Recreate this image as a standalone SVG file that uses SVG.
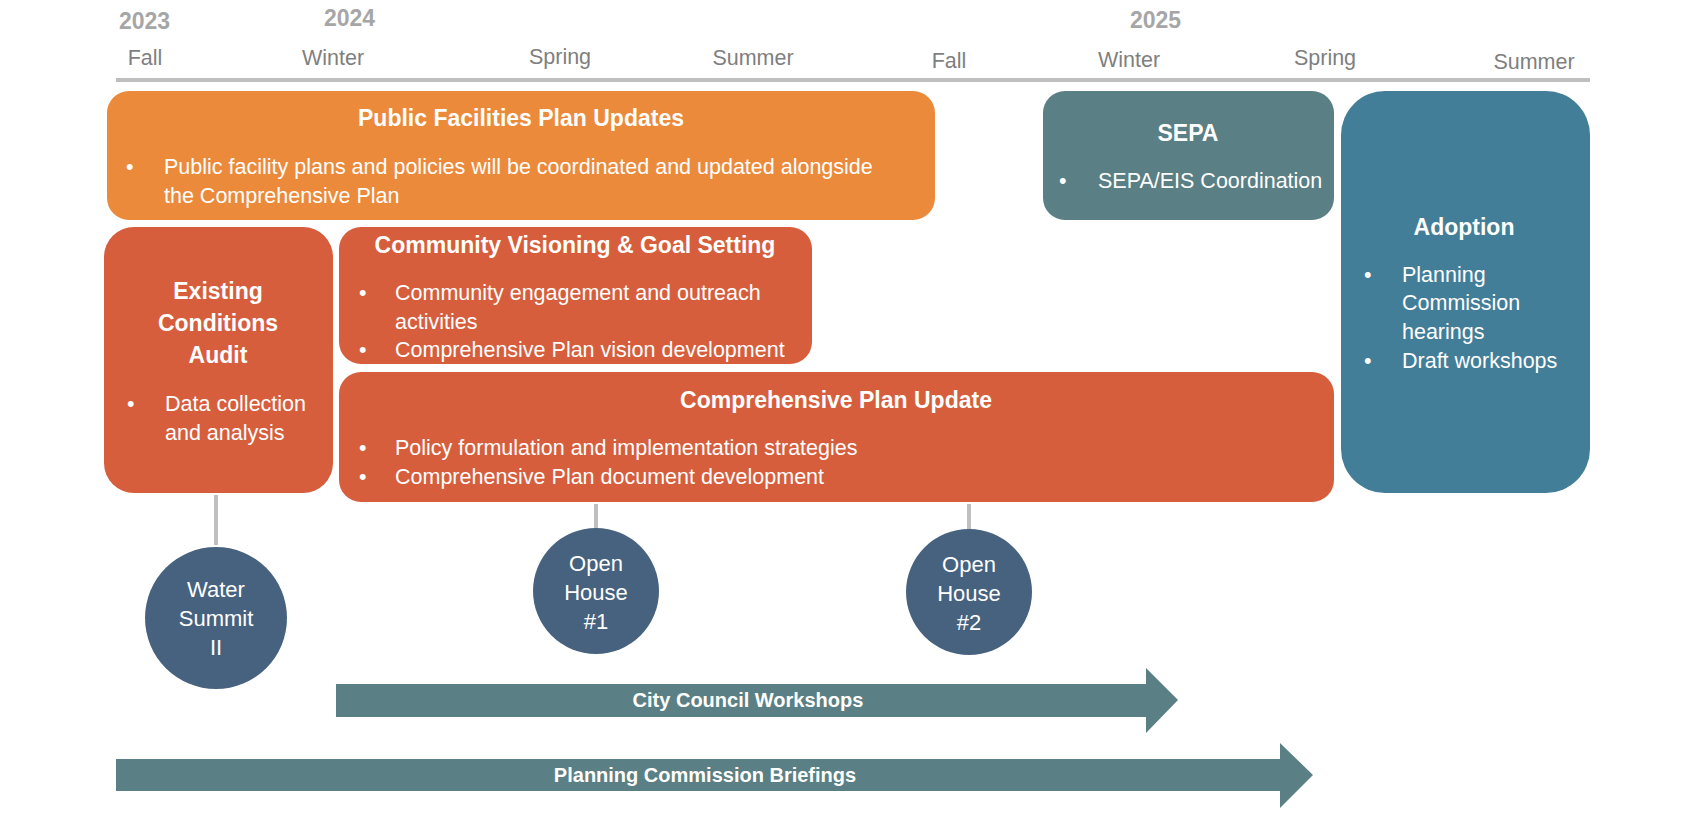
<svg xmlns="http://www.w3.org/2000/svg" width="1700" height="814" viewBox="0 0 1700 814">
<style>
.yr{font-family:"Liberation Sans",Arial,sans-serif;font-weight:bold;font-size:23px;fill:#A6A6A6}
.ss{font-family:"Liberation Sans",Arial,sans-serif;font-size:21.5px;fill:#7F7F7F;text-anchor:middle}
.t{font-family:"Liberation Sans",Arial,sans-serif;font-weight:bold;font-size:23px;fill:#fff;text-anchor:middle}
.b{font-family:"Liberation Sans",Arial,sans-serif;font-size:21.5px;fill:#fff}
.c{font-family:"Liberation Sans",Arial,sans-serif;font-size:22px;fill:#fff;text-anchor:middle}
.a{font-family:"Liberation Sans",Arial,sans-serif;font-weight:bold;font-size:20px;fill:#fff;text-anchor:middle}
.conn{stroke:#BFBFBF;stroke-width:4;fill:none}
.red{fill:#D65E3C}
.circ{fill:#46627F}
.arr{fill:#5A7F84}
</style>
<rect width="1700" height="814" fill="#fff"/>
<g id="timeline">
<text class="yr" x="119" y="29">2023</text>
<text class="yr" x="324" y="26">2024</text>
<text class="yr" x="1130" y="28">2025</text>
<text class="ss" x="145" y="65">Fall</text>
<text class="ss" x="333" y="65">Winter</text>
<text class="ss" x="560" y="64">Spring</text>
<text class="ss" x="753" y="65">Summer</text>
<text class="ss" x="949" y="68">Fall</text>
<text class="ss" x="1129" y="67">Winter</text>
<text class="ss" x="1325" y="65">Spring</text>
<text class="ss" x="1534" y="69">Summer</text>
<line x1="116" y1="80" x2="1590" y2="80" stroke="#BFBFBF" stroke-width="4"/>
</g>
<g id="public-facilities">
<rect x="107" y="91" width="828" height="129" rx="22" fill="#EC8A3B"/>
<text class="t" x="521" y="126">Public Facilities Plan Updates</text>
<text class="b" x="126" y="174">•</text>
<text class="b" x="164" y="174">Public facility plans and policies will be coordinated and updated alongside</text>
<text class="b" x="164" y="203">the Comprehensive Plan</text>
</g>
<g id="sepa">
<rect x="1043" y="91" width="291" height="129" rx="22" fill="#5A7F84"/>
<text class="t" x="1188" y="141">SEPA</text>
<text class="b" x="1059" y="188">•</text>
<text class="b" x="1098" y="188">SEPA/EIS Coordination</text>
</g>
<g id="adoption">
<rect x="1341" y="91" width="249" height="402" rx="44" fill="#437E98"/>
<text class="t" x="1464" y="235">Adoption</text>
<text class="b" x="1364" y="282">•</text>
<text class="b" x="1402" y="282">Planning</text>
<text class="b" x="1402" y="310">Commission</text>
<text class="b" x="1402" y="339">hearings</text>
<text class="b" x="1364" y="368">•</text>
<text class="b" x="1402" y="368">Draft workshops</text>
</g>
<g id="existing-conditions">
<rect class="red" x="104" y="227" width="229" height="266" rx="30"/>
<text class="t" x="218" y="299">Existing</text>
<text class="t" x="218" y="331">Conditions</text>
<text class="t" x="218" y="363">Audit</text>
<text class="b" x="127" y="411">•</text>
<text class="b" x="165" y="411">Data collection</text>
<text class="b" x="165" y="440">and analysis</text>
</g>
<g id="community-visioning">
<rect class="red" x="339" y="227" width="473" height="137" rx="22"/>
<text class="t" x="575" y="253">Community Visioning &amp; Goal Setting</text>
<text class="b" x="359" y="300">•</text>
<text class="b" x="395" y="300">Community engagement and outreach</text>
<text class="b" x="395" y="329">activities</text>
<text class="b" x="359" y="357">•</text>
<text class="b" x="395" y="357">Comprehensive Plan vision development</text>
</g>
<g id="comprehensive-plan">
<rect class="red" x="339" y="372" width="995" height="130" rx="22"/>
<text class="t" x="836" y="408">Comprehensive Plan Update</text>
<text class="b" x="359" y="455">•</text>
<text class="b" x="395" y="455">Policy formulation and implementation strategies</text>
<text class="b" x="359" y="484">•</text>
<text class="b" x="395" y="484">Comprehensive Plan document development</text>
</g>
<g id="connectors">
<line class="conn" x1="216" y1="495" x2="216" y2="545"/>
<line class="conn" x1="596" y1="504" x2="596" y2="529"/>
<line class="conn" x1="969" y1="504" x2="969" y2="530"/>
</g>
<g id="water-summit">
<circle class="circ" cx="216" cy="618" r="71"/>
<text class="c" x="216" y="597">Water</text>
<text class="c" x="216" y="626">Summit</text>
<text class="c" x="216" y="655">II</text>
</g>
<g id="open-house-1">
<circle class="circ" cx="596" cy="591" r="63"/>
<text class="c" x="596" y="571">Open</text>
<text class="c" x="596" y="600">House</text>
<text class="c" x="596" y="629">#1</text>
</g>
<g id="open-house-2">
<circle class="circ" cx="969" cy="592" r="63"/>
<text class="c" x="969" y="572">Open</text>
<text class="c" x="969" y="601">House</text>
<text class="c" x="969" y="630">#2</text>
</g>
<g id="city-council">
<polygon class="arr" points="336,684 1146,684 1146,668 1178,700 1146,733 1146,717 336,717"/>
<text class="a" x="748" y="707">City Council Workshops</text>
</g>
<g id="planning-commission">
<polygon class="arr" points="116,759 1280,759 1280,743 1313,775 1280,808 1280,791 116,791"/>
<text class="a" x="705" y="782">Planning Commission Briefings</text>
</g>
</svg>
